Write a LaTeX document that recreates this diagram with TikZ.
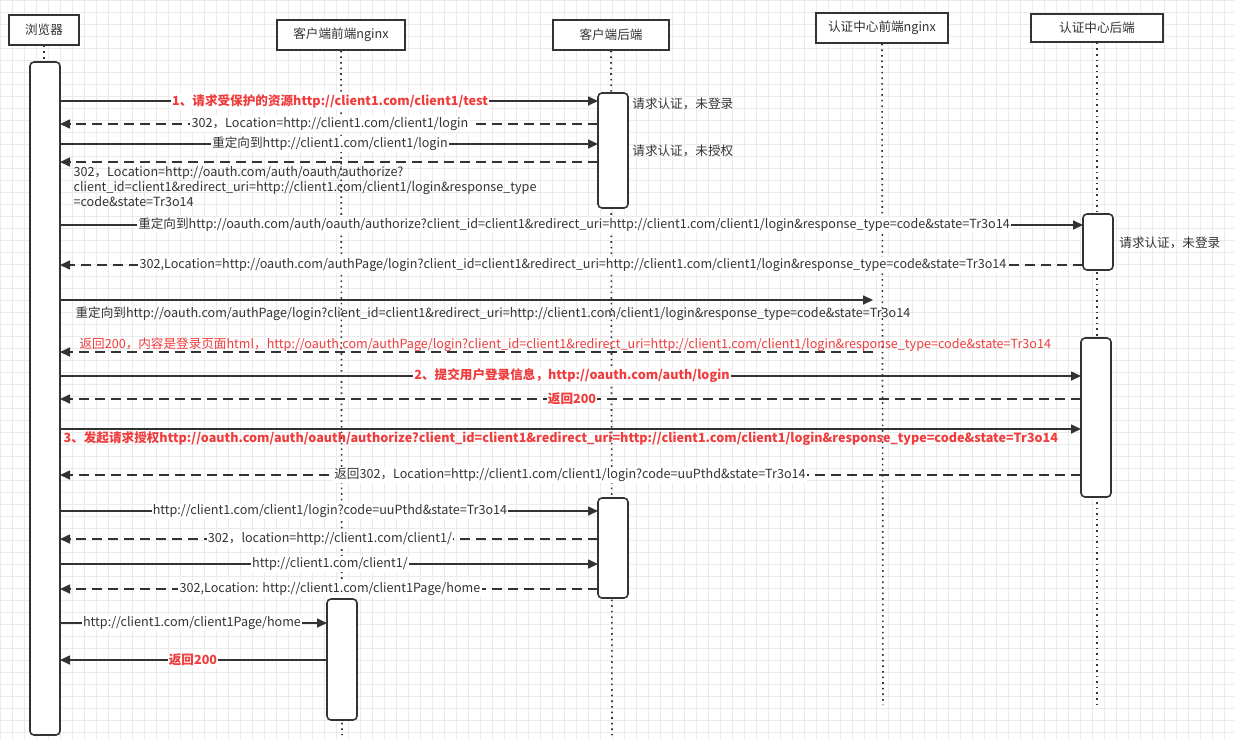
\documentclass[tikz,border=0pt]{standalone}
\usepackage{fontspec}
\setmainfont{Noto Sans CJK SC}
\usetikzlibrary{arrows.meta}
\definecolor{lineC}{HTML}{333333}
\definecolor{redC}{HTML}{F03C3C}
\tikzset{
  hdr/.style={draw=lineC,line width=0.8pt,fill=white,inner sep=0pt,font=\fontsize{6.3}{7}\selectfont,text=lineC},
  act/.style={draw=lineC,line width=0.8pt,fill=white,rounded corners=2pt},
  life/.style={draw=lineC,line width=0.8pt,dotted},
  req/.style={draw=lineC,line width=0.8pt,-{Triangle[length=5pt,width=4.5pt]}},
  rsp/.style={draw=lineC,line width=0.8pt,dash pattern=on 5pt off 3pt,-{Triangle[length=5pt,width=4.5pt]}},
  lbl/.style={fill=white,inner sep=0.6pt,font=\fontsize{6.3}{7.5}\selectfont,text=lineC},
  rlbl/.style={lbl,text=redC},
  rblbl/.style={lbl,text=redC,font=\fontsize{6.3}{7.5}\selectfont\bfseries},
  note/.style={inner sep=0pt,anchor=west,font=\fontsize{6.3}{7.5}\selectfont,text=lineC}
}
\begin{document}
\begin{tikzpicture}[x=0.5pt,y=-0.5pt]
\useasboundingbox (0,0) rectangle (1234,740);
\fill[white] (0,0) rectangle (1234,740);
\draw[black!8,step=6pt] (0,0) grid (1234,740);
% headers
\node[hdr,minimum width=35pt,minimum height=15pt] (hb) at (44,30) {浏览器};
\node[hdr,minimum width=64pt,minimum height=15pt] (hcn) at (341,35) {客户端前端nginx};
\node[hdr,minimum width=58pt,minimum height=15pt] (hcb) at (611,35) {客户端后端};
\node[hdr,minimum width=66pt,minimum height=15pt] (han) at (882,28) {认证中心前端nginx};
\node[hdr,minimum width=66pt,minimum height=14pt] (hab) at (1097,28) {认证中心后端};
% lifelines
\coordinate (lcn) at (342,735); \coordinate (lcb) at (612,735);
\coordinate (lan) at (883,705); \coordinate (lab) at (1097,705);
\draw[life] (hb.south) -- (44,62);
\draw[life] (hcn.south) -- (lcn);
\draw[life] (hcb.south) -- (lcb);
\draw[life] (han.south) -- (lan);
\draw[life] (hab.south) -- (lab);
% activations
\draw[act] (30,62) rectangle (60,735);
\draw[act] (598,93) rectangle (628,208);
\draw[act] (598,498) rectangle (628,598);
\draw[act] (1083,214) rectangle (1113,270);
\draw[act] (1081,338) rectangle (1111,497);
\draw[act] (327,599) rectangle (357,720);
% messages
\foreach \n/\y/\xa/\xb in {1/101/60/598,3/144/60/598,5/225/60/1083,7/300/60/873,9/376/60/1081,11/429/60/1081,13/511/60/598,15/564/60/598,17/623/60/327,18/660/327/60}{
  \coordinate (s\n) at (\xa,\y); \coordinate (e\n) at (\xb,\y);}
\foreach \n/\y/\xa/\xb in {2/124/598/60,4/162/598/60,6/265/1083/60,8/352/873/60,10/399/1081/60,12/475/1081/60,14/539/598/60,16/589/598/60}{
  \coordinate (s\n) at (\xa,\y); \coordinate (e\n) at (\xb,\y);}
\foreach \n in {1,3,5,7,9,11,13,15,17,18} {\draw[req] (s\n) -- (e\n);}
\foreach \n in {2,4,6,8,10,12,14,16} {\draw[rsp] (s\n) -- (e\n);}
\node[rblbl] (t1) at (330,101) {1、请求受保护的资源http://client1.com/client1/test};
\node[lbl] (t2) at (330,124) {302，Location=http://client1.com/client1/login};
\node[lbl] (t3) at (330,144) {重定向到http://client1.com/client1/login};
\node[lbl,fill=none,anchor=north west,align=left] (t4) at (72,165) {302，Location=http://oauth.com/auth/oauth/authorize?\\client\_id=client1\&redirect\_uri=http://client1.com/client1/login\&response\_type\\=code\&state=Tr3o14};
\node[note] (n1) at (632,104) {请求认证，未登录};
\node[note] (n2) at (632,151) {请求认证，未授权};
\node[lbl] (t5) at (574,225) {重定向到http://oauth.com/auth/oauth/authorize?client\_id=client1\&redirect\_uri=http://client1.com/client1/login\&response\_type=code\&state=Tr3o14};
\node[note] (n3) at (1119,243) {请求认证，未登录};
\node[lbl] (t6) at (573,265) {302,Location=http://oauth.com/authPage/login?client\_id=client1\&redirect\_uri=http://client1.com/client1/login\&response\_type=code\&state=Tr3o14};
\node[lbl,fill=none,anchor=west] (t7) at (74,314) {重定向到http://oauth.com/authPage/login?client\_id=client1\&redirect\_uri=http://client1.com/client1/login\&response\_type=code\&state=Tr3o14};
\node[rlbl,fill=none,anchor=west] (t8) at (78,345) {返回200，内容是登录页面html，http://oauth.com/authPage/login?client\_id=client1\&redirect\_uri=http://client1.com/client1/login\&response\_type=code\&state=Tr3o14};
\node[rblbl] (t9) at (572,376) {2、提交用户登录信息，http://oauth.com/auth/login};
\node[rblbl] (t10) at (572,399) {返回200};
\node[rblbl,fill=none,anchor=west] (t11) at (62,439) {3、发起请求授权http://oauth.com/auth/oauth/authorize?client\_id=client1\&redirect\_uri=http://client1.com/client1/login\&response\_type=code\&state=Tr3o14};
\node[lbl] (t12) at (570,475) {返回302，Location=http://client1.com/client1/login?code=uuPthd\&state=Tr3o14};
\node[lbl] (t13) at (330,511) {http://client1.com/client1/login?code=uuPthd\&state=Tr3o14};
\node[lbl] (t14) at (330,539) {302，location=http://client1.com/client1/};
\node[lbl] (t15) at (330,564) {http://client1.com/client1/};
\node[lbl] (t16) at (330,589) {302,Location: http://client1.com/client1Page/home};
\node[lbl] (t17) at (192,623) {http://client1.com/client1Page/home};
\node[rblbl] (t18) at (193,660) {返回200};
\end{tikzpicture}
\end{document}
